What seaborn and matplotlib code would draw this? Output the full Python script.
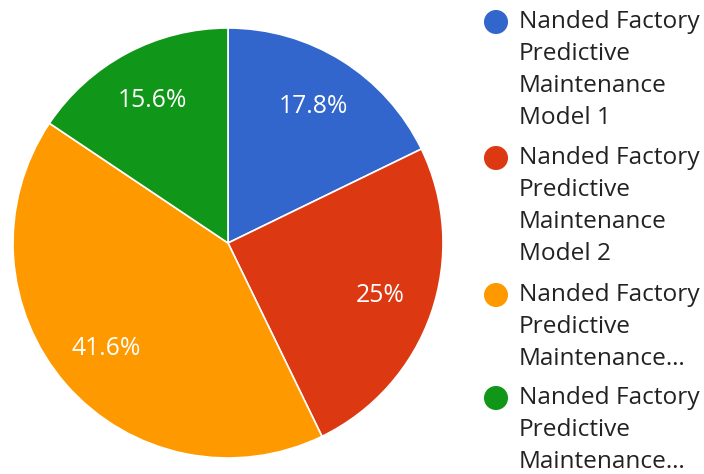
import matplotlib
matplotlib.use("Agg")
import matplotlib.pyplot as plt
import seaborn as sns

# -------------------------
# Data
# -------------------------
models = [
    "Nanded Factory Predictive Maintenance Model 1",
    "Nanded Factory Predictive Maintenance Model 2",
    "Nanded Factory Predictive Maintenance Model 3",
    "Nanded Factory Predictive Maintenance Model 4",
]
shares = [17.8, 25.0, 41.6, 15.6]
# legend lines as shown (long labels are cut after three lines)
legend_lines = [
    ["Nanded Factory", "Predictive", "Maintenance", "Model 1"],
    ["Nanded Factory", "Predictive", "Maintenance", "Model 2"],
    ["Nanded Factory", "Predictive", "Maintenance…"],
    ["Nanded Factory", "Predictive", "Maintenance…"],
]
colors = ["#3366cc", "#dc3912", "#ff9900", "#109618"]

sns.set_theme(style="white")
plt.rcParams["font.family"] = ["Open Sans", "DejaVu Sans"]

W, H = 704, 474
fig = plt.figure(figsize=(W / 100, H / 100), dpi=100)

# -------------------------
# Pie
# -------------------------
cx, cy, r = 228, 243, 215
pad = 1.01
ax = fig.add_axes([(cx - r * pad) / W, (H - cy - r * pad) / H, 2 * r * pad / W, 2 * r * pad / H])


def fmt_pct(p):
    s = f"{p:.1f}"
    if s.endswith(".0"):
        s = s[:-2]
    return s + "%"


wedges, texts, autotexts = ax.pie(
    shares, colors=colors, startangle=90, counterclock=False,
    autopct=fmt_pct, pctdistance=0.75,
    wedgeprops=dict(edgecolor="white", linewidth=1.2),
    textprops=dict(color="white", fontsize=17.8),
)
ax.set_xlim(-pad, pad)
ax.set_ylim(-pad, pad)
ax.set_aspect("equal")
ax.axis("off")

# -------------------------
# Legend (drawn in pixel coordinates)
# -------------------------
lax = fig.add_axes([0, 0, 1, 1])
lax.set_xlim(0, W)
lax.set_ylim(H, 0)
lax.axis("off")

line_h = 32
item_tops = [22, 158, 295, 398]
for col, lines, y0 in zip(colors, legend_lines, item_tops):
    lax.scatter([496], [y0], s=300, color=col, edgecolors="none", clip_on=False)
    for k, t in enumerate(lines):
        lax.text(519, y0 + k * line_h, t, fontsize=17.6, color="#222222",
                 va="center", ha="left", clip_on=False)

fig.savefig("out.png", dpi=100)
